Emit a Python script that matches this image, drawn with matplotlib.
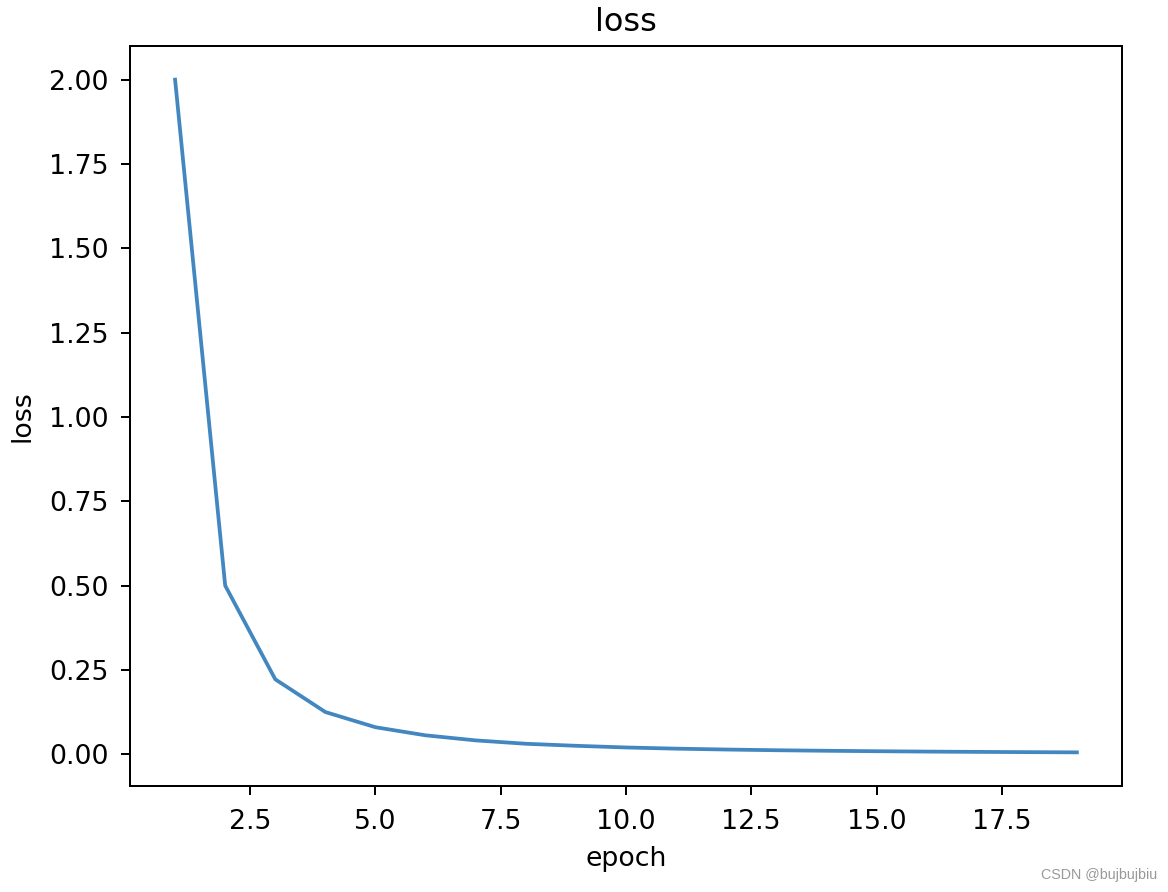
import numpy as np
import matplotlib.pyplot as plt

# loss per epoch
epochs = list(range(1, 20))
loss = [2.0, 0.5, 0.222, 0.125, 0.08, 0.056, 0.041, 0.031, 0.025, 0.02,
        0.0165, 0.0139, 0.0118, 0.0102, 0.0089, 0.0078, 0.0069, 0.0062, 0.0055]

plt.rcParams['font.size'] = 10.7
plt.rcParams['xtick.major.pad'] = 5.6
plt.rcParams['ytick.major.pad'] = 5.0

fig = plt.figure(figsize=(1168 / 180, 892 / 180), dpi=180)
ax = fig.add_axes([130 / 1168, 1 - 786 / 892, (1122 - 130) / 1168, (786 - 46) / 892])
ax.plot(epochs, loss, color='#4287c0', linewidth=1.5)
ax.set_title('loss', fontsize=12.8)
ax.set_xlabel('epoch', labelpad=4.6)
ax.set_ylabel('loss', labelpad=5.4)
ax.set_xticks([2.5, 5.0, 7.5, 10.0, 12.5, 15.0, 17.5])
ax.set_yticks([0.0, 0.25, 0.5, 0.75, 1.0, 1.25, 1.5, 1.75, 2.0])

fig.text(1157 / 1168, 1 - 875 / 892, 'CSDN @bujbujbiu', ha='right', va='center',
         fontsize=5.7, color='#999999', family='Liberation Sans')

fig.savefig('out.png', dpi=180)
